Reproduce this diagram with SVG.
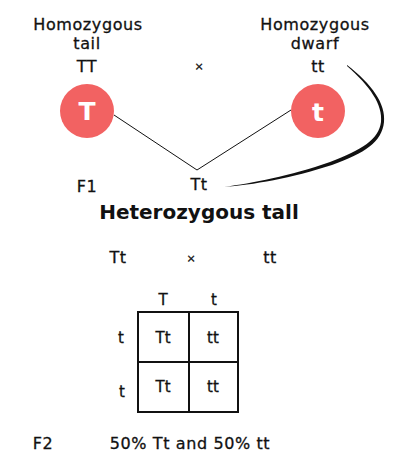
<svg xmlns="http://www.w3.org/2000/svg" width="403" height="470" viewBox="0 0 403 470">
<style>
text{font-family:"DejaVu Sans","Liberation Sans",sans-serif;fill:#111;text-anchor:middle;stroke:#111;stroke-width:0.3}
.t{font-size:16px;letter-spacing:0.6px}
.s{font-size:15px}
.x{font-size:11px}
.c{fill:#F26262}
.cl{font-size:25px;font-weight:bold;fill:#fff;stroke:none}
.h{font-size:20px;font-weight:bold;stroke:none}
.g{fill:none;stroke:#111;stroke-width:2}
</style>
<rect width="403" height="470" fill="#fff"/>
<g id="parent-TT">
<text class="t" x="88" y="30">Homozygous</text>
<text class="t" x="87" y="49">tail</text>
<text class="t" x="87" y="72">TT</text>
</g>
<g id="parent-tt">
<text class="t" x="315" y="30">Homozygous</text>
<text class="t" x="315" y="49">dwarf</text>
<text class="t" x="318" y="72">tt</text>
</g>
<g id="cross1"><text class="x" x="199" y="70">×</text></g>
<g id="gamete-T">
<circle class="c" cx="87" cy="111" r="27"/>
<text class="cl" x="87" y="120">T</text>
</g>
<g id="gamete-t">
<circle class="c" cx="318" cy="111" r="27"/>
<text class="cl" x="318" y="121">t</text>
</g>
<g id="connectors">
<polyline points="114,115 197,170 291,110" fill="none" stroke="#111" stroke-width="1"/>
<path d="M347,65 C372,84 386,104 384,122 C382,142 365,153 332,165 C292,178 252,185 224,187 C252,183 290,176 330,162 C362,150 379,139 381,122 C383,105 370,86 347,66 Z" fill="#111"/>
</g>
<g id="f1">
<text class="t" x="87" y="192">F1</text>
<text class="t" x="199" y="190">Tt</text>
</g>
<g id="hetero"><text class="h" x="199" y="219">Heterozygous tall</text></g>
<g id="cross2">
<text class="t" x="118" y="263">Tt</text>
<text class="x" x="191" y="262">×</text>
<text class="t" x="270" y="263">tt</text>
</g>
<g id="punnett">
<rect class="g" x="138" y="312" width="100" height="100"/>
<line class="g" x1="189" y1="312" x2="189" y2="412"/>
<line class="g" x1="138" y1="362" x2="238" y2="362"/>
<text class="s" x="163" y="305">T</text>
<text class="s" x="214" y="305">t</text>
<text class="s" x="121" y="343">t</text>
<text class="s" x="122" y="397">t</text>
<text class="s" x="163" y="343">Tt</text>
<text class="s" x="213" y="343">tt</text>
<text class="s" x="163" y="392">Tt</text>
<text class="s" x="213" y="392">tt</text>
</g>
<g id="f2">
<text class="t" x="43" y="449">F2</text>
<text class="t" x="190" y="449">50% Tt and 50% tt</text>
</g>
</svg>
